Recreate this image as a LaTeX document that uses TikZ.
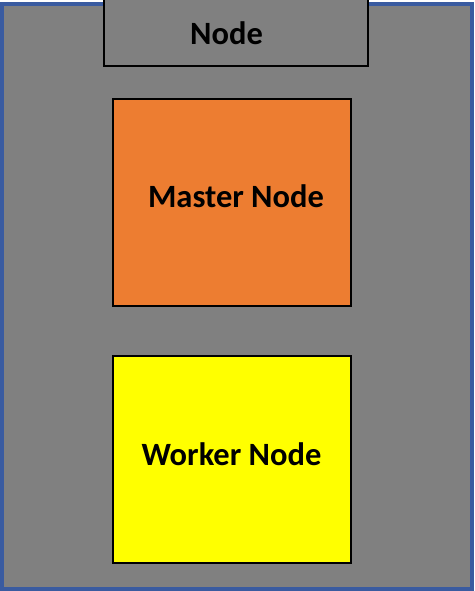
\documentclass[tikz,border=0pt]{standalone}
\usepackage{fontspec}
\setmainfont{Carlito}
\definecolor{outerblue}{HTML}{3A5BA0}
\definecolor{boxgray}{HTML}{808080}
\definecolor{masterorange}{HTML}{ED7D31}
\definecolor{workeryellow}{HTML}{FFFF00}
\tikzset{
  box/.style={draw=black, line width=1.2pt, inner sep=0pt},
  lbl/.style={font=\bfseries\fontsize{32.5}{38}\selectfont, inner sep=0pt},
}
\begin{document}
\begin{tikzpicture}[x=1pt,y=-1pt]
\useasboundingbox (0,0) rectangle (474,591);
\fill[white] (0,0) rectangle (474,591);
\node[draw=outerblue, fill=boxgray, line width=4pt, minimum width=470pt, minimum height=585pt, inner sep=0pt] (outer) at (237,296.5) {};
\node[box, fill=boxgray, minimum width=264pt, minimum height=67pt] (node) at (236,32.5) {};
\node[lbl] (nodelabel) at (226.5,33) {Node};
\node[box, fill=masterorange, minimum width=238pt, minimum height=207pt] (master) at (232,202.5) {};
\node[lbl] (masterlabel) at (236,196.5) {Master Node};
\node[box, fill=workeryellow, minimum width=238pt, minimum height=207pt] (worker) at (232,459.5) {};
\node[lbl] (workerlabel) at (231.5,454.5) {Worker Node};
\end{tikzpicture}
\end{document}
